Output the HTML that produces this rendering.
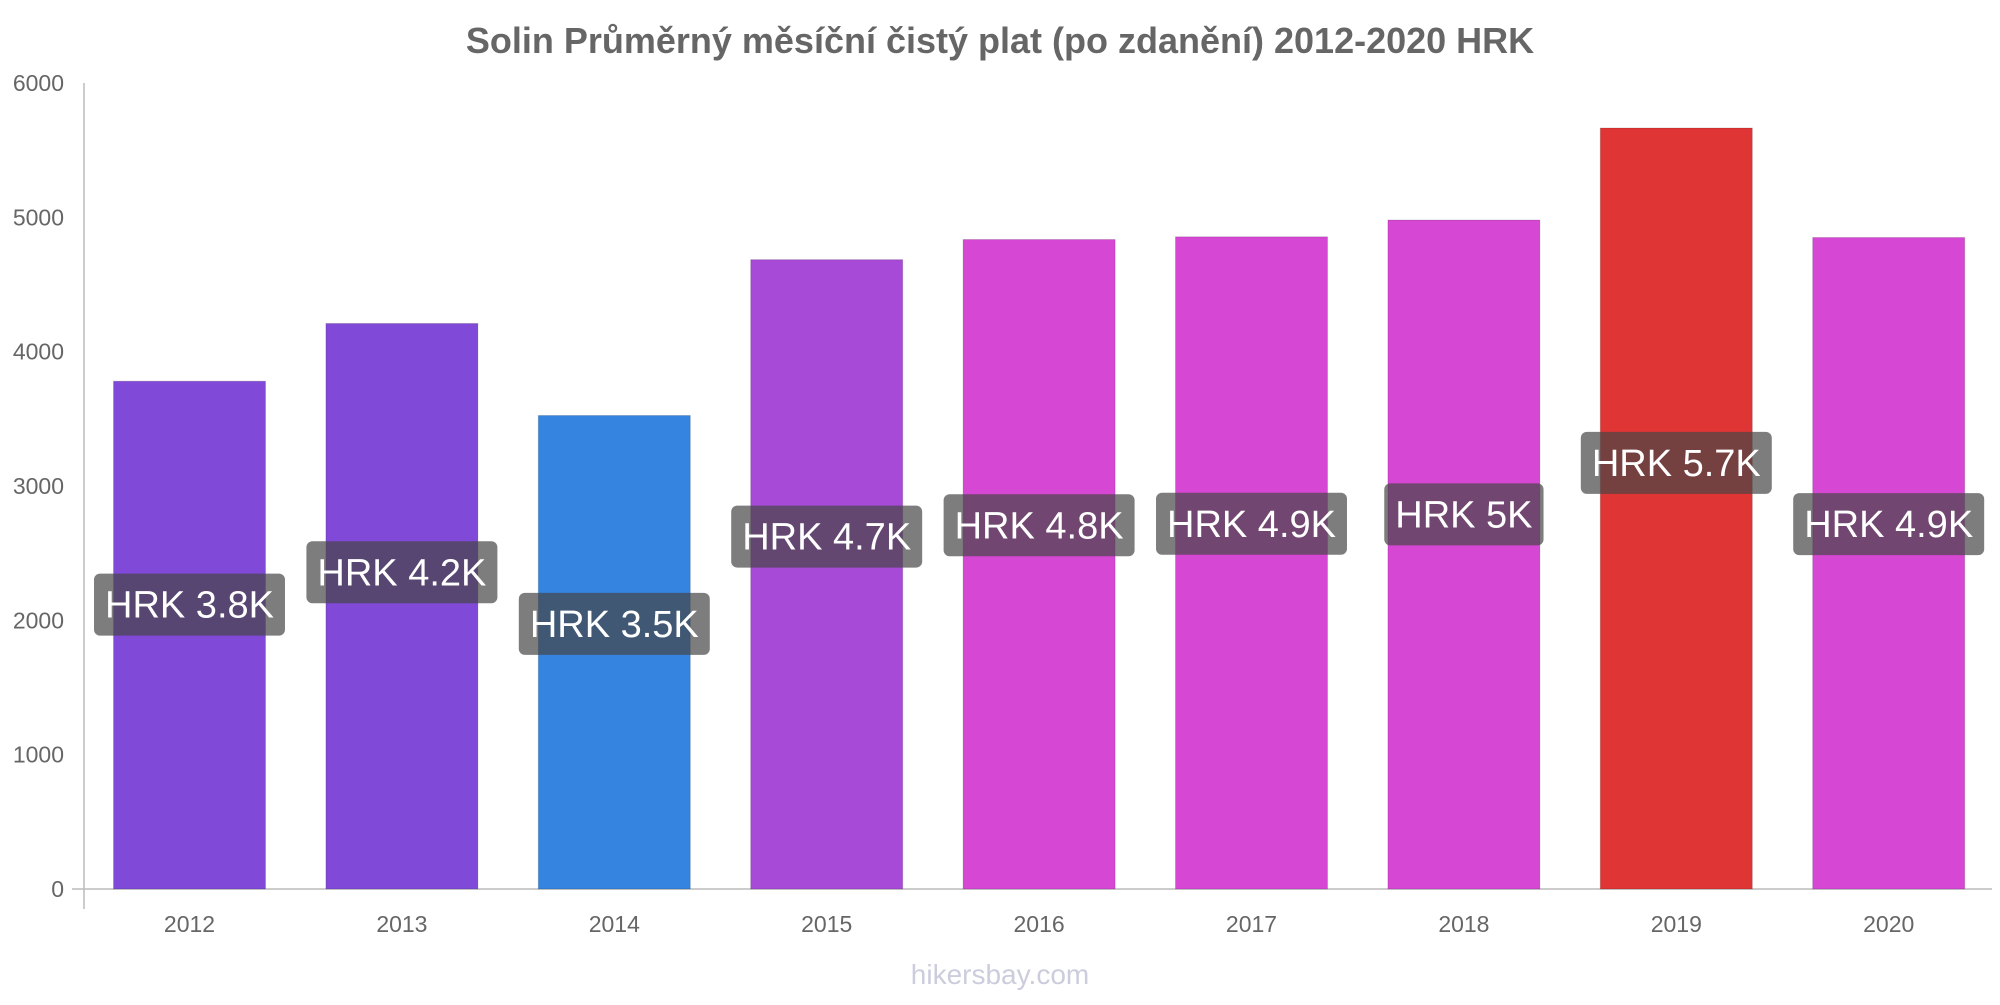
<!DOCTYPE html>
<html><head><meta charset="utf-8">
<style>
body{margin:0;background:#fff;font-family:"Liberation Sans",sans-serif;}
svg text{font-family:"Liberation Sans",sans-serif;}
</style></head>
<body>
<svg id="chart" width="2000" height="1000" viewBox="0 0 2000 1000" xmlns="http://www.w3.org/2000/svg">
<text x="1000" y="53" text-anchor="middle" font-size="36" font-weight="bold" fill="#666">Solin Průměrný měsíční čistý plat (po zdanění) 2012-2020 HRK</text>
<g id="axes"></g>
<g id="bars"></g>
<g id="labels"></g>
<text x="1000" y="984" text-anchor="middle" font-size="28" fill="#ccd">hikersbay.com</text>
</svg>
<script>
const categories = ["2012","2013","2014","2015","2016","2017","2018","2019","2020"];
const values = [3780, 4210, 3525, 4685, 4835, 4855, 4980, 5665, 4850];
const valueLabels = ["HRK 3.8K","HRK 4.2K","HRK 3.5K","HRK 4.7K","HRK 4.8K","HRK 4.9K","HRK 5K","HRK 5.7K","HRK 4.9K"];
const yTicks = [0,1000,2000,3000,4000,5000,6000];
const colors = ["#8049d8","#8049d8","#3584e0","#a84ad8","#d647d4","#d647d4","#d647d4","#e03535","#d647d4"];

const NS="http://www.w3.org/2000/svg";
const x0=84, x1=1992, yZero=889, yTop=83, yMax=6000;
const step=212.4, barW=152, firstBar=113.5;
const y=v=>yZero-(v/yMax)*(yZero-yTop);
const xc=i=>firstBar+barW/2+i*step;
function mk(tag,attrs,parent){const e=document.createElementNS(NS,tag);for(const k in attrs)e.setAttribute(k,attrs[k]);parent.appendChild(e);return e;}
const axes=document.getElementById('axes'),bars=document.getElementById('bars'),labels=document.getElementById('labels');

const yl=mk('line',{x1:x0,y1:yTop,x2:x0,y2:yZero+20,stroke:'#bbb','stroke-width':1.5},axes);


const xl=mk('line',{x1:x0-12,y1:yZero,x2:x1,y2:yZero,stroke:'#bbb','stroke-width':1.5},axes);


yTicks.forEach(t=>{
  const tx=mk('text',{x:x0-20,y:y(t)+8,'text-anchor':'end','font-size':23,fill:'#666'},axes);
  tx.textContent=t;
  
  
});
categories.forEach((c,i)=>{
  const tx=mk('text',{x:xc(i),y:932,'text-anchor':'middle','font-size':23,fill:'#666'},axes);
  tx.textContent=c;
  
  
  const r=mk('rect',{x:xc(i)-barW/2,y:y(values[i]),width:barW,height:yZero-y(values[i]),fill:colors[i],stroke:'rgba(0,0,0,0.15)','stroke-width':1},bars);
  
  
  const cy=yZero-(yZero-y(values[i]))*0.56;
  const g=mk('g',{},labels);
  
  
  const t=mk('text',{x:xc(i),y:cy+13,'text-anchor':'middle','font-size':38,fill:'#fff'},g);
  t.textContent=valueLabels[i];
  const w=t.getComputedTextLength()+22;
  const b=mk('rect',{x:xc(i)-w/2,y:cy-31,width:w,height:62,rx:6,fill:'rgba(70,70,70,0.7)'},g);
  g.insertBefore(b,t);
});
</script>
</body></html>
